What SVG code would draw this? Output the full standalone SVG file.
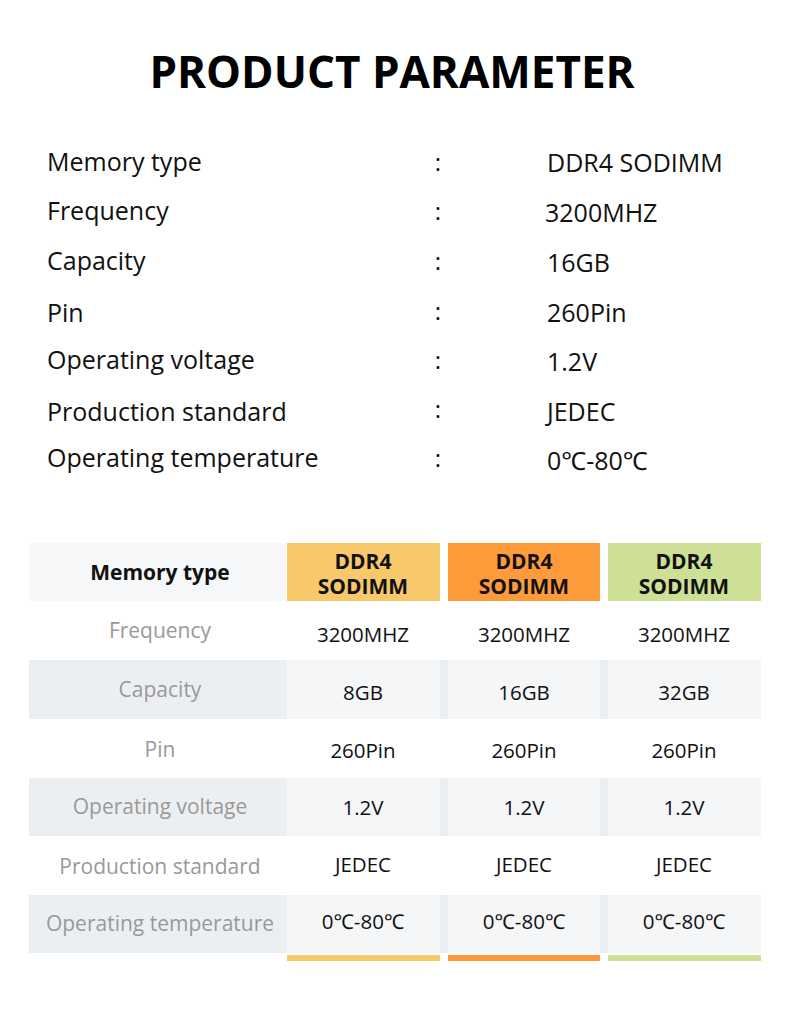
<svg xmlns="http://www.w3.org/2000/svg" width="790" height="1022" viewBox="0 0 790 1022">
<style>
text{font-family:"Open Sans","Noto Sans","Liberation Sans",sans-serif}
.t{font-size:44px;font-weight:bold;fill:#000;text-anchor:middle}
.l{font-size:25px;fill:#111}
.c{font-size:24px;fill:#111;text-anchor:middle}
.h{font-size:21px;font-weight:bold;fill:#111;text-anchor:middle}
.g{font-size:21px;fill:#999;text-anchor:middle}
.v{font-size:20.5px;fill:#111;text-anchor:middle}
.wr{fill:#ffffff}.gr{fill:#eceff2}.gc{fill:#f4f6f8}.wc{fill:#fbfcfc}
</style>
<rect width="790" height="1022" fill="#fff"/>
<text class="t" x="392" y="88">PRODUCT PARAMETER</text>
<g id="list">
<text class="l" x="47" y="171">Memory type</text><text class="c" x="438" y="171">:</text><text class="l" x="547" y="172">DDR4 SODIMM</text>
<text class="l" x="47" y="220">Frequency</text><text class="c" x="438" y="220">:</text><text class="l" x="545" y="222">3200MHZ</text>
<text class="l" x="47" y="270">Capacity</text><text class="c" x="438" y="270">:</text><text class="l" x="547" y="272">16GB</text>
<text class="l" x="47" y="322">Pin</text><text class="c" x="438" y="320">:</text><text class="l" x="547" y="322">260Pin</text>
<text class="l" x="47" y="369">Operating voltage</text><text class="c" x="438" y="369">:</text><text class="l" x="547" y="371">1.2V</text>
<text class="l" x="47" y="421">Production standard</text><text class="c" x="438" y="418">:</text><text class="l" x="547" y="421">JEDEC</text>
<text class="l" x="47" y="467">Operating temperature</text><text class="c" x="438" y="467">:</text><text class="l" x="547" y="470">0℃-80℃</text>
</g>
<g id="table">
<rect x="29" y="543" width="257" height="58" fill="#f5f7f8"/>
<rect x="287" y="543" width="153" height="58" fill="#f7c96b"/>
<rect x="448" y="543" width="152" height="58" fill="#fd9b3a"/>
<rect x="608" y="543" width="153" height="58" fill="#cde096"/>
<text class="h" x="160" y="580">Memory type</text>
<text class="h" x="363" y="569">DDR4</text><text class="h" x="363" y="594">SODIMM</text>
<text class="h" x="524" y="569">DDR4</text><text class="h" x="524" y="594">SODIMM</text>
<text class="h" x="684" y="569">DDR4</text><text class="h" x="684" y="594">SODIMM</text>
<rect x="29" y="660" width="732" height="59" class="gr"/>
<rect x="29" y="778" width="732" height="58" class="gr"/>
<rect x="29" y="895" width="732" height="58" class="gr"/>
<g class="gc"><rect x="287" y="660" width="153" height="59"/><rect x="448" y="660" width="152" height="59"/><rect x="608" y="660" width="153" height="59"/>
<rect x="287" y="778" width="153" height="58"/><rect x="448" y="778" width="152" height="58"/><rect x="608" y="778" width="153" height="58"/>
<rect x="287" y="895" width="153" height="58"/><rect x="448" y="895" width="152" height="58"/><rect x="608" y="895" width="153" height="58"/></g>
<rect x="287" y="955" width="153" height="6" fill="#f7c96b"/>
<rect x="448" y="955" width="152" height="6" fill="#fd9b3a"/>
<rect x="608" y="955" width="153" height="6" fill="#cde096"/>
<text class="g" x="160" y="638">Frequency</text><text class="v" x="363" y="642">3200MHZ</text><text class="v" x="524" y="642">3200MHZ</text><text class="v" x="684" y="642">3200MHZ</text>
<text class="g" x="160" y="697">Capacity</text><text class="v" x="363" y="700">8GB</text><text class="v" x="524" y="700">16GB</text><text class="v" x="684" y="700">32GB</text>
<text class="g" x="160" y="757">Pin</text><text class="v" x="363" y="758">260Pin</text><text class="v" x="524" y="758">260Pin</text><text class="v" x="684" y="758">260Pin</text>
<text class="g" x="160" y="814">Operating voltage</text><text class="v" x="363" y="815">1.2V</text><text class="v" x="524" y="815">1.2V</text><text class="v" x="684" y="815">1.2V</text>
<text class="g" x="160" y="874">Production standard</text><text class="v" x="363" y="872">JEDEC</text><text class="v" x="524" y="872">JEDEC</text><text class="v" x="684" y="872">JEDEC</text>
<text class="g" x="160" y="931">Operating temperature</text><text class="v" x="363" y="929">0℃-80℃</text><text class="v" x="524" y="929">0℃-80℃</text><text class="v" x="684" y="929">0℃-80℃</text>
</g>
</svg>
